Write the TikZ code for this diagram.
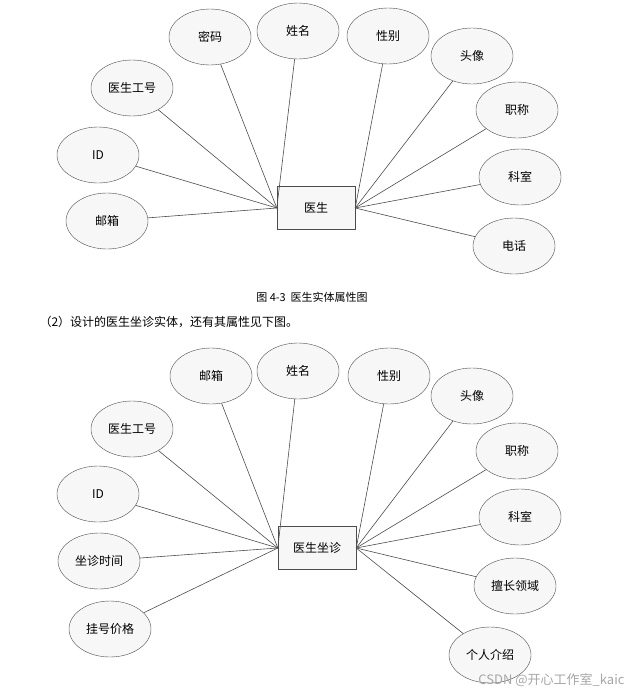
\documentclass[tikz,border=0pt]{standalone}
\usepackage{fontspec}
\setmainfont{Liberation Serif}
\newfontfamily\cjk{Noto Sans CJK SC}
\usetikzlibrary{shapes.geometric}
\begin{document}
\begin{tikzpicture}[x=1pt,y=-1pt,
  attr/.style={ellipse,draw=black!70,fill=gray!6,minimum width=82pt,minimum height=56pt,inner sep=0pt,font=\cjk\fontsize{12}{14}\selectfont},
  ent/.style={rectangle,draw=black!70,fill=gray!6,minimum width=78pt,minimum height=43pt,font=\cjk\fontsize{12}{14}\selectfont},
  ln/.style={draw=black!70,line width=0.6pt}]
\useasboundingbox (0,0) rectangle (635,696);
% top
\node[ent] (e1) at (316,208) {医生};
\node[attr] (a1) at (210,37) {密码};
\node[attr] (a2) at (298,31) {姓名};
\node[attr] (a3) at (388,36) {性别};
\node[attr] (a4) at (472,56) {头像};
\node[attr] (a5) at (132,88) {医生工号};
\node[attr] (a6) at (517,110) {职称};
\node[attr] (a7) at (98,155) {ID};
\node[attr] (a8) at (520,177) {科室};
\node[attr] (a9) at (107,221) {邮箱};
\node[attr] (a10) at (514,246) {电话};
\foreach \a in {a1,a2,a5,a7,a9} \draw[ln] (\a) -- (e1.west);
\foreach \a in {a3,a4,a6,a8,a10} \draw[ln] (\a) -- (e1.east);
\node[font=\cjk\fontsize{11}{13}\selectfont] (cap) at (312,297) {图 4-3\ \ 医生实体属性图};
\node[font=\cjk\fontsize{12}{14}\selectfont,anchor=west] (txt) at (36,322) {（2）设计的医生坐诊实体，还有其属性见下图。};
% bottom
\node[ent] (e2) at (317,548) {医生坐诊};
\node[attr] (b1) at (211,376) {邮箱};
\node[attr] (b2) at (298,371) {姓名};
\node[attr] (b3) at (389,376) {性别};
\node[attr] (b4) at (472,396) {头像};
\node[attr] (b5) at (132,429) {医生工号};
\node[attr] (b6) at (517,451) {职称};
\node[attr] (b7) at (98,494) {ID};
\node[attr] (b8) at (520,517) {科室};
\node[attr] (b9) at (99,561) {坐诊时间};
\node[attr] (b10) at (515,586) {擅长领域};
\node[attr] (b11) at (110,629) {挂号价格};
\node[attr] (b12) at (490,655) {个人介绍};
\foreach \a in {b1,b2,b5,b7,b9,b11} \draw[ln] (\a) -- (e2.west);
\foreach \a in {b3,b4,b6,b8,b10,b12} \draw[ln] (\a) -- (e2.east);
\node[font=\cjk\fontsize{13}{15}\selectfont,text=gray!70,anchor=east] (wm) at (628,680) {CSDN @开心工作室\_kaic};
\end{tikzpicture}
\end{document}
